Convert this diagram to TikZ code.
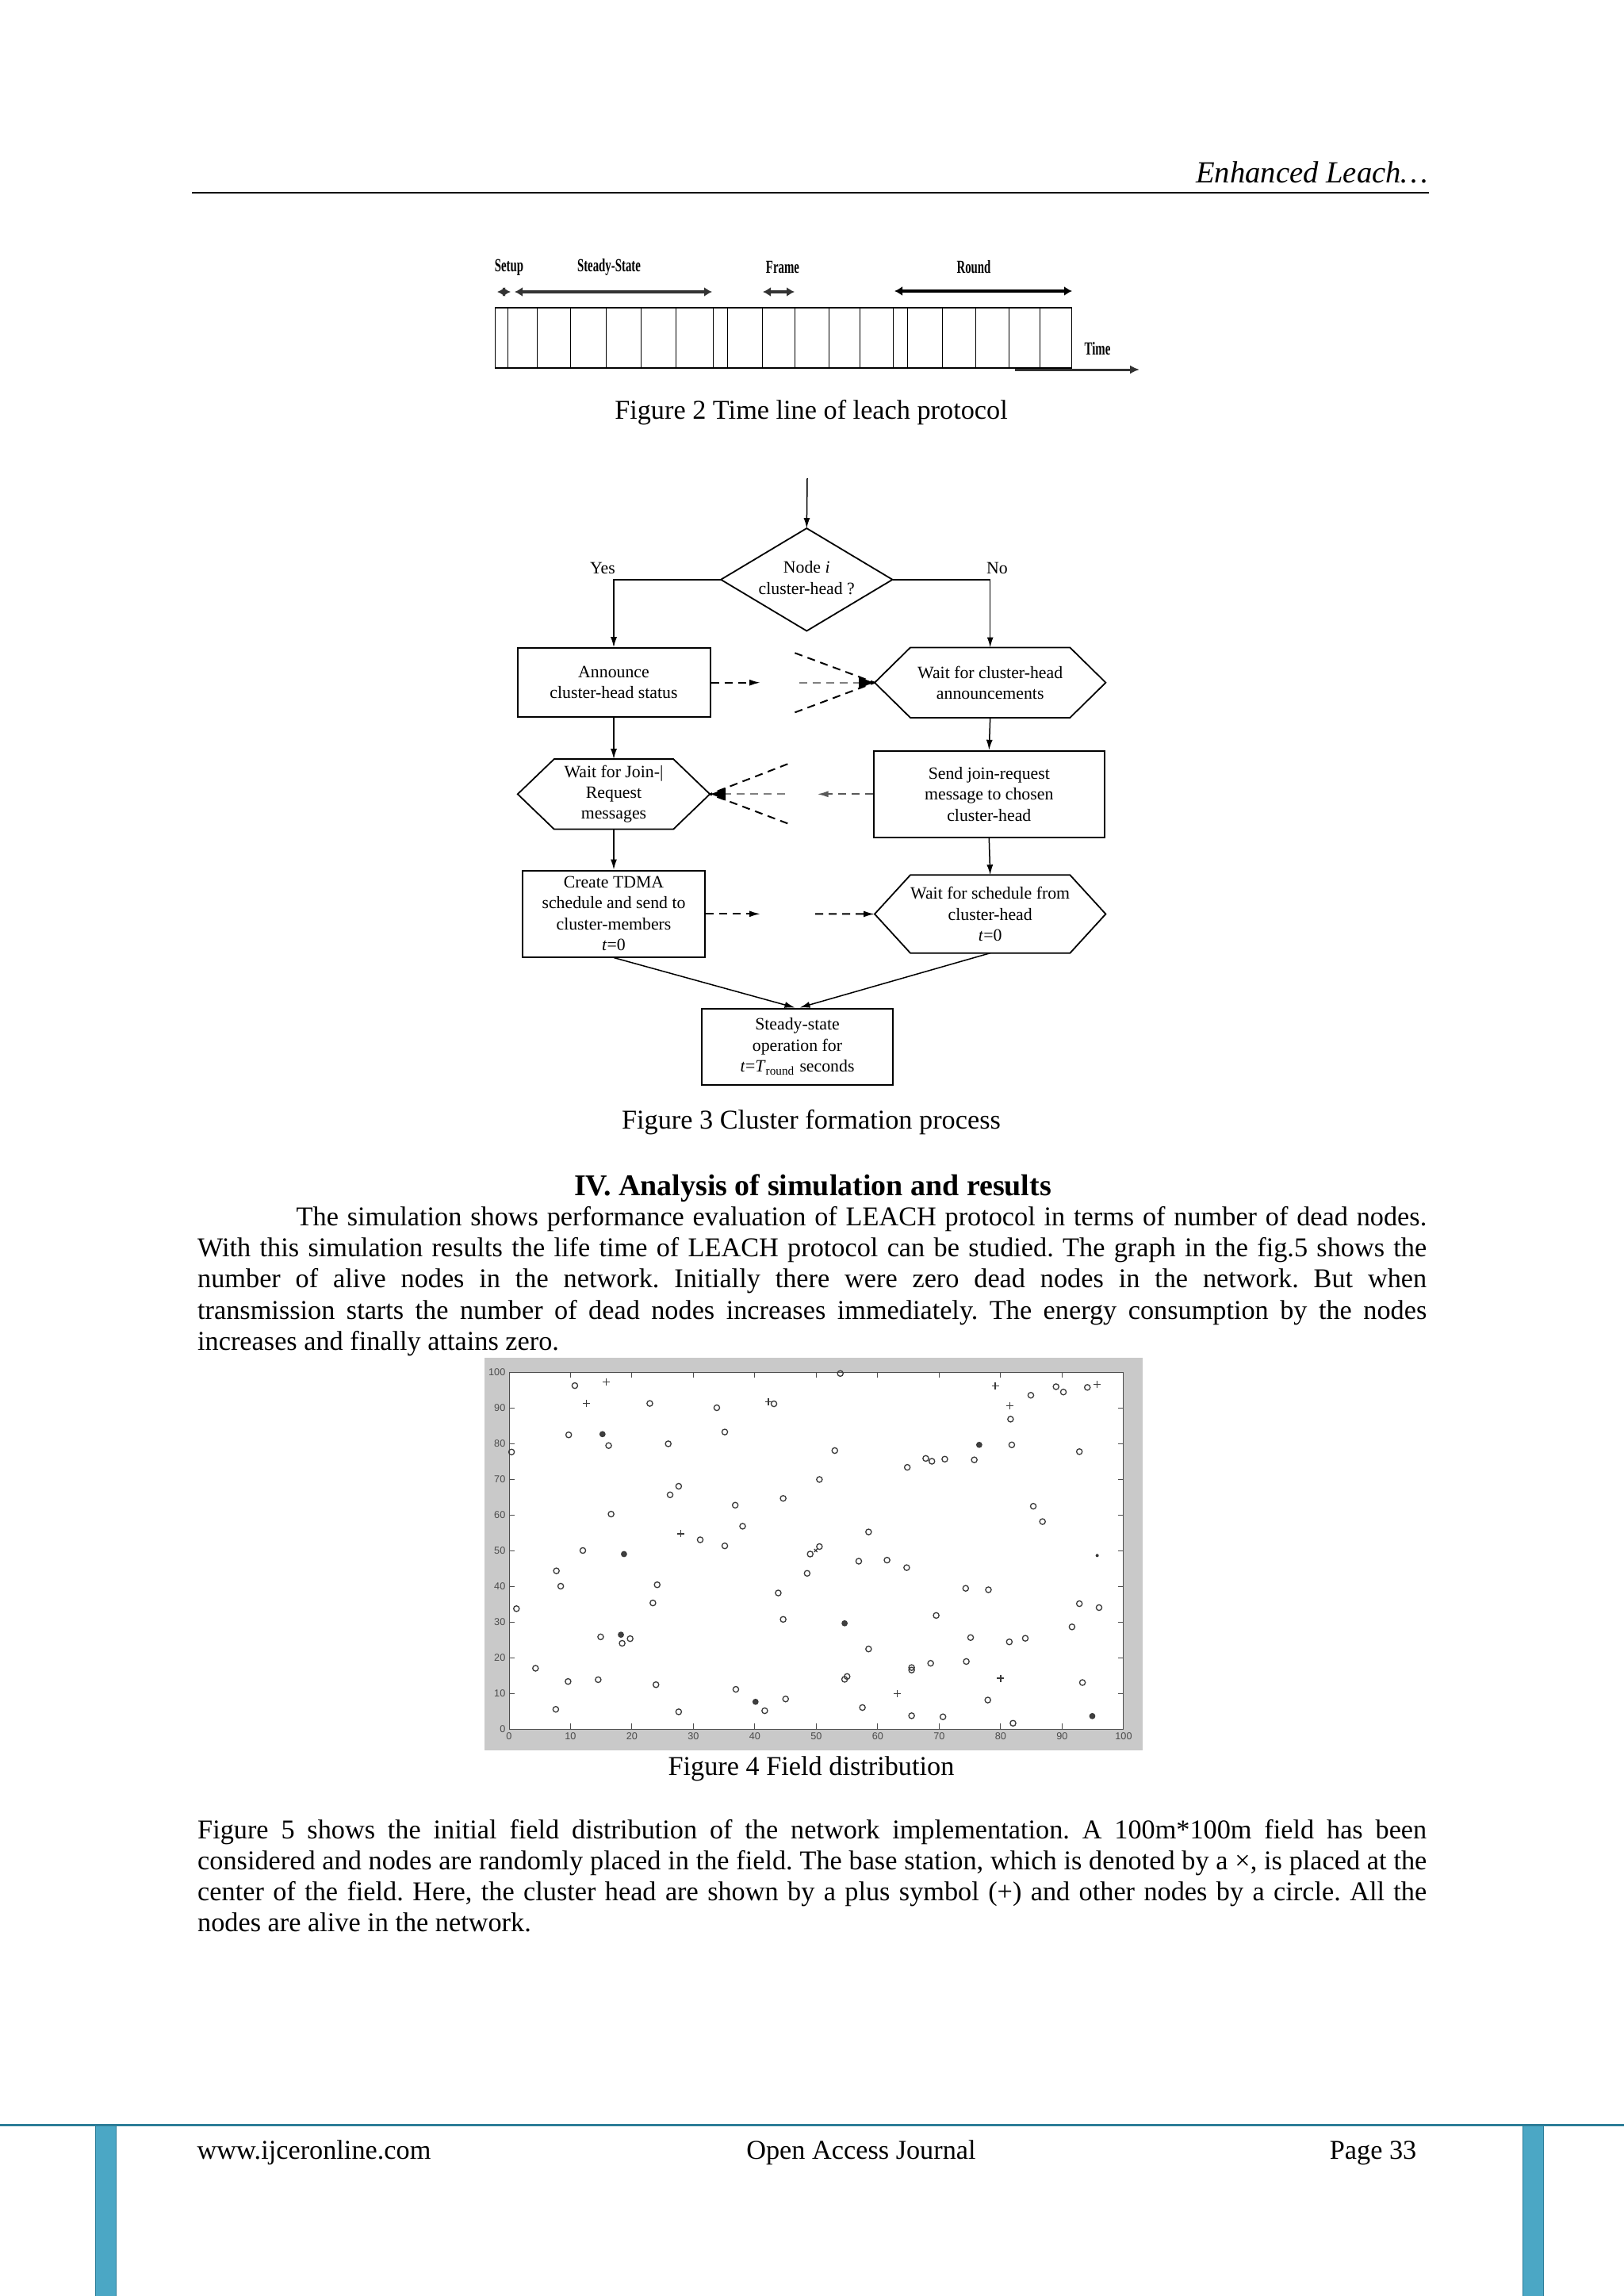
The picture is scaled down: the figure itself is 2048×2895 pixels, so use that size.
\documentclass[tikz,border=0pt]{standalone}
\usepackage{fontspec}
\setmainfont{Liberation Serif}
\setsansfont{Liberation Sans}
\usepackage{graphicx}
\usepackage{tikz}
\usetikzlibrary{positioning,arrows.meta,calc}
\definecolor{cTeal}{HTML}{4BA7C5}
\definecolor{cTealD}{HTML}{2C7D98}
\definecolor{cFrame}{HTML}{C9C9C9}
\definecolor{cMark}{HTML}{3A3A3A}
\newcommand{\tlab}[1]{\scalebox{0.64}[1]{#1}}
\newcommand{\hexline}[2]{\draw[hexdraw] (#1.west) -- ([xshift=#2]#1.north west) -- ([xshift=-#2]#1.north east)
  -- (#1.east) -- ([xshift=-#2]#1.south east) -- ([xshift=#2]#1.south west) -- cycle;}
\newcommand{\diamline}[1]{\draw[hexdraw] (#1.west) -- (#1.north) -- (#1.east) -- (#1.south) -- cycle;}
\frenchspacing

\begin{document}
\begin{tikzpicture}[
  x=0.1mm, y=-0.1mm,
  txt/.style={font=\fontsize{9.75}{11.7}\selectfont, inner sep=0pt},
  fc/.style={font=\fontsize{6.2}{7.5}\selectfont},
  box/.style={draw, line width=0.2mm, inner sep=0pt, align=center, fc},
  hexa/.style={inner sep=0pt, align=center, fc},
  hexdraw/.style={line width=0.18mm},
  lbl/.style={fc, inner sep=0pt},
  arr/.style={-{Latex[length=1.3mm, width=0.8mm]}, line width=0.15mm},
  dsh/.style={dash pattern=on 1mm off 0.7mm, line width=0.2mm},
  dsharr/.style={dsh, -{Latex[length=1.4mm, width=0.8mm]}},
  fanarr/.style={dsh, draw=gray, -{Latex[length=2mm, width=1.7mm, color=black]}},
  tl/.style={font=\fontsize{6.6}{8}\selectfont\bfseries, inner sep=0pt},
  span/.style={{Latex[length=1mm, width=1.2mm]}-{Latex[length=1mm, width=1.2mm]}, line width=0.4mm, black!80},
  pt/.style={draw=cMark, line width=0.13mm},
  tick/.style={font=\fontsize{3.6}{4.2}\sffamily\selectfont, text=black!70, inner sep=0pt}
]
\useasboundingbox (0,0) rectangle (2048,2895);
\fill[white] (0,0) rectangle (2048,2895);

% header
\node[txt, font=\fontsize{11}{13}\selectfont\itshape, anchor=base east] (hd) at (1802,230) {Enhanced Leach…};
\draw[line width=0.2mm] (242,243) -- (1802,243);

% time line
\draw[line width=0.1mm] (624.4,387.7) rectangle (1351.8,464.3);
\draw[line width=0.22mm] (624.4,387.7) -- (1351.8,387.7);
\draw[line width=0.22mm] (624.4,464.3) -- (1351.8,464.3);
\foreach \xx in {640.7,677,719.8,764.2,808.7,852.6,899.2,917.1,961.5,1002.7,1045.5,1084,1126.8,1144.2,1188.6,1230.4,1272.1,1311.7}
  \draw[line width=0.1mm] (\xx,387.7) -- (\xx,464.3);
\node[tl] (setup) at (642,337) {\tlab{Setup}};
\node[tl] (ss) at (768,337) {\tlab{Steady-State}};
\node[tl] (frame) at (987,337) {\tlab{Frame}};
\node[tl] (round) at (1228,337) {\tlab{Round}};
\node[tl] (time) at (1384,440) {\tlab{Time}};
\draw[span] (627,368) -- (644,368);
\draw[span] (649,368) -- (898,368);
\draw[span] (962,368) -- (1002,368);
\draw[span, black] (1128,367) -- (1352,367);
\draw[line width=0.3mm, black!80, -{Latex[length=1.2mm, width=1.1mm]}] (1280,466) -- (1437,466);
\node[txt, anchor=base] (cap2) at (1023,528) {Figure 2 Time line of leach protocol};

% cluster formation flowchart
\coordinate (in) at (1018,603);
\node[hexa, minimum width=21.5mm, minimum height=12.8mm] (dec) at (1017.3,730.8) {\raisebox{0.7mm}{\begin{tabular}{@{}c@{}}Node \textit{i}\\cluster-head ?\end{tabular}}};
\node[box, minimum width=24.3mm, minimum height=8.7mm] (ann) at (774,860.7) {Announce\\cluster-head status};
\node[hexa, minimum width=29mm, minimum height=8.7mm] (wch) at (1248.7,860.7) {Wait for cluster-head\\announcements};
\node[hexa, minimum width=24.1mm, minimum height=8.7mm] (wjr) at (774,1001.3) {Wait for Join-|\\Request\\messages};
\node[box, minimum width=29.1mm, minimum height=10.9mm] (send) at (1247.3,1001.3) {Send join-request\\message to chosen\\cluster-head};
\node[box, minimum width=23mm, minimum height=10.9mm] (tdma) at (774,1152) {Create TDMA\\schedule and send to\\cluster-members\\\textit{t}=0};
\node[hexa, minimum width=29mm, minimum height=9.7mm] (wsch) at (1248.7,1152.5) {Wait for schedule from\\cluster-head\\\textit{t}=0};
\node[box, minimum width=24.1mm, minimum height=9.6mm] (steady) at (1005.5,1319.5) {Steady-state\\operation for\\\textit{t}=\textit{T}\textsubscript{round} seconds};
\diamline{dec}
\hexline{wch}{4.5mm}
\hexline{wjr}{4.6mm}
\hexline{wsch}{4.5mm}
\node[lbl] (yes) at (760,716) {Yes};
\node[lbl] (no) at (1257.5,716) {No};
\draw[arr] (in) -- (dec.north);
\draw[arr] (dec.west) -| (ann.north);
\draw[arr] (dec.east) -| (wch.north);
\draw[arr] (ann.south) -- (wjr.north);
\draw[arr] (wch.south) -- (send.north);
\draw[arr] (wjr.south) -- (tdma.north);
\draw[arr] (send.south) -- (wsch.north);
\draw[arr] (tdma.south) -- ([xshift=-0.3mm]steady.north);
\draw[arr] (wsch.south) -- ([xshift=0.3mm]steady.north);
% dashed messages
\coordinate (d1) at (959,860.7);
\coordinate (f1) at (1002.4,823.3);
\coordinate (f2) at (1007.6,860.7);
\coordinate (f3) at (1002.4,898.3);
\draw[dsharr] (ann.east) -- (d1);
\draw[dsh] (f1) -- (wch.west);
\draw[dsh] (f3) -- (wch.west);
\draw[fanarr] (f2) -- (wch.west);
\coordinate (d2) at (1030.5,1001.3);
\coordinate (f4) at (993.3,963.3);
\coordinate (f5) at (989.7,1001.3);
\coordinate (f6) at (993.3,1038.3);
\draw[dsharr, draw=black!65] (send.west) -- (d2);
\draw[dsh] (f4) -- (wjr.east);
\draw[dsh] (f6) -- (wjr.east);
\draw[fanarr] (f5) -- (wjr.east);
\coordinate (d3) at (959,1152.3);
\coordinate (d4) at (1028,1152.3);
\draw[dsharr] (tdma.east |- d3) -- (d3);
\draw[dsharr] (d4) -- (wsch.west);
\node[txt, anchor=base] (cap3) at (1023,1423) {Figure 3 Cluster formation process};

% section text
\node[txt, font=\fontsize{10.8}{13}\selectfont\bfseries, anchor=base] (sec) at (1025,1507) {IV. Analysis of simulation and results};
\node[txt, anchor=base west] (p1a) at (373,1545) {\makebox[142.55mm][s]{The simulation shows performance evaluation of LEACH protocol in terms of number of dead nodes.}};
\node[txt, anchor=base west] (p1b) at (248.5,1584) {\makebox[155mm][s]{With this simulation results the life time of LEACH protocol can be studied. The graph in the fig.5 shows the}};
\node[txt, anchor=base west] (p1c) at (248.5,1623) {\makebox[155mm][s]{number of alive nodes in the network. Initially there were zero dead nodes in the network. But when}};
\node[txt, anchor=base west] (p1d) at (248.5,1663) {\makebox[155mm][s]{transmission starts the number of dead nodes increases immediately. The energy consumption by the nodes}};
\node[txt, anchor=base west] (p1e) at (248.5,1702) {increases and finally attains zero.};

% field distribution
\fill[cFrame] (611,1712) rectangle (1441,2207);
\fill[white] (642,1730) rectangle (1417,2180);
\begin{scope}[shift={(64.2mm,-218mm)}, x=0.775mm, y=0.45mm]
\draw[black!70, line width=0.1mm] (0,0) rectangle (100,100);
\foreach \v in {0,10,...,100} {
  \draw[black!70, line width=0.1mm] (\v,0) -- ++(0,0.7mm);
  \draw[black!70, line width=0.1mm] (\v,100) -- ++(0,-0.7mm);
  \draw[black!70, line width=0.1mm] (0,\v) -- ++(0.7mm,0);
  \draw[black!70, line width=0.1mm] (100,\v) -- ++(-0.7mm,0);
  \node[tick, anchor=north] at ([yshift=-0.4mm]\v,0) {\v};
  \node[tick, anchor=east] at ([xshift=-0.4mm]0,\v) {\v};
}
% nodes
\foreach \a/\b in {10.7/96.2,22.9/91.2,33.8/90,35.1/83.2,43.1/91.1,9.7/82.4,16.2/79.4,25.9/79.9,0.4/77.6,27.6/68,26.2/65.6,50.5/69.9,44.6/64.6,36.8/62.7,16.6/60.2,38/56.8,31.1/53,35.1/51.3,12/50,49/49,50.5/51.1,
  53.9/99.6,84.9/93.5,89/95.9,90.2/94.4,94.1/95.7,81.6/86.8,81.8/79.6,92.8/77.7,53/78,67.8/75.8,68.8/75,70.9/75.6,75.7/75.4,64.8/73.3,85.3/62.4,86.8/58.1,58.5/55.2,
  7.7/44.3,8.4/40,24.1/40.4,23.4/35.3,1.2/33.7,43.8/38.1,48.5/43.6,44.6/30.7,14.9/25.8,18.4/24,19.7/25.3,4.3/17,9.6/13.3,14.5/13.8,23.9/12.4,7.6/5.5,27.6/4.8,36.9/11.1,41.6/5.1,45/8.4,
  56.9/47,61.5/47.3,64.7/45.2,74.3/39.4,78/39,92.8/35.1,96/34,69.5/31.8,91.6/28.6,75.1/25.6,81.4/24.4,84/25.4,58.5/22.4,68.6/18.4,74.4/18.9,65.5/17.2,65.5/16.5,55/14.7,54.6/13.9,93.3/13,77.9/8.1,57.5/6,65.5/3.7,70.6/3.4,82/1.6}
  \draw[pt] (\a,\b) circle[radius=0.36mm];
% cluster heads
\foreach \a/\b in {15.8/97.2,12.6/91.3,42.2/91.6,27.9/54.7,79.1/96.1,95.7/96.5,81.5/90.5,80/14.2,63.2/9.9}
  \draw[pt] (\a,\b) +(-0.45mm,0) -- +(0.45mm,0) +(0,-0.45mm) -- +(0,0.45mm);
% dead nodes
\foreach \a/\b in {15.2/82.6,18.7/49,18.2/26.4,40.1/7.6,76.5/79.6,54.6/29.6,94.9/3.6}
  \draw[pt, fill=black!75] (\a,\b) circle[radius=0.32mm];
\fill[black!80] (95.7,48.6) circle[radius=0.2mm];
% base station
\draw[pt] (49.9,50) +(-0.2mm,-0.2mm) -- +(0.2mm,0.2mm) +(-0.2mm,0.2mm) -- +(0.2mm,-0.2mm);
\end{scope}
\node[txt, anchor=base] (cap4) at (1023,2238) {Figure 4 Field distribution};

\node[txt, anchor=base west] (p2a) at (248.5,2318) {\makebox[155mm][s]{Figure 5 shows the initial field distribution of the network implementation. A 100m*100m field has been}};
\node[txt, anchor=base west] (p2b) at (248.5,2357) {\makebox[155mm][s]{considered and nodes are randomly placed in the field. The base station, which is denoted by a ×, is placed at the}};
\node[txt, anchor=base west] (p2c) at (248.5,2396) {\makebox[155mm][s]{center of the field. Here, the cluster head are shown by a plus symbol (+) and other nodes by a circle. All the}};
\node[txt, anchor=base west] (p2d) at (248.5,2435) {nodes are alive in the network.};

% footer
\fill[cTeal] (120,2679) rectangle (146,2895);
\fill[cTeal] (1920,2679) rectangle (1946,2895);
\draw[cTealD, line width=0.08mm] (120,2895) -- (120,2679) -- (146,2679) -- (146,2895);
\draw[cTealD, line width=0.08mm] (1920,2895) -- (1920,2679) -- (1946,2679) -- (1946,2895);
\draw[cTealD, line width=0.3mm] (0,2679) -- (2048,2679);
\node[txt, anchor=base west] (web) at (248,2722) {www.ijceronline.com};
\node[txt, anchor=base] (oaj) at (1086,2722) {Open Access Journal};
\node[txt, anchor=base east] (pg) at (1787,2722) {Page 33};
\end{tikzpicture}
\end{document}
